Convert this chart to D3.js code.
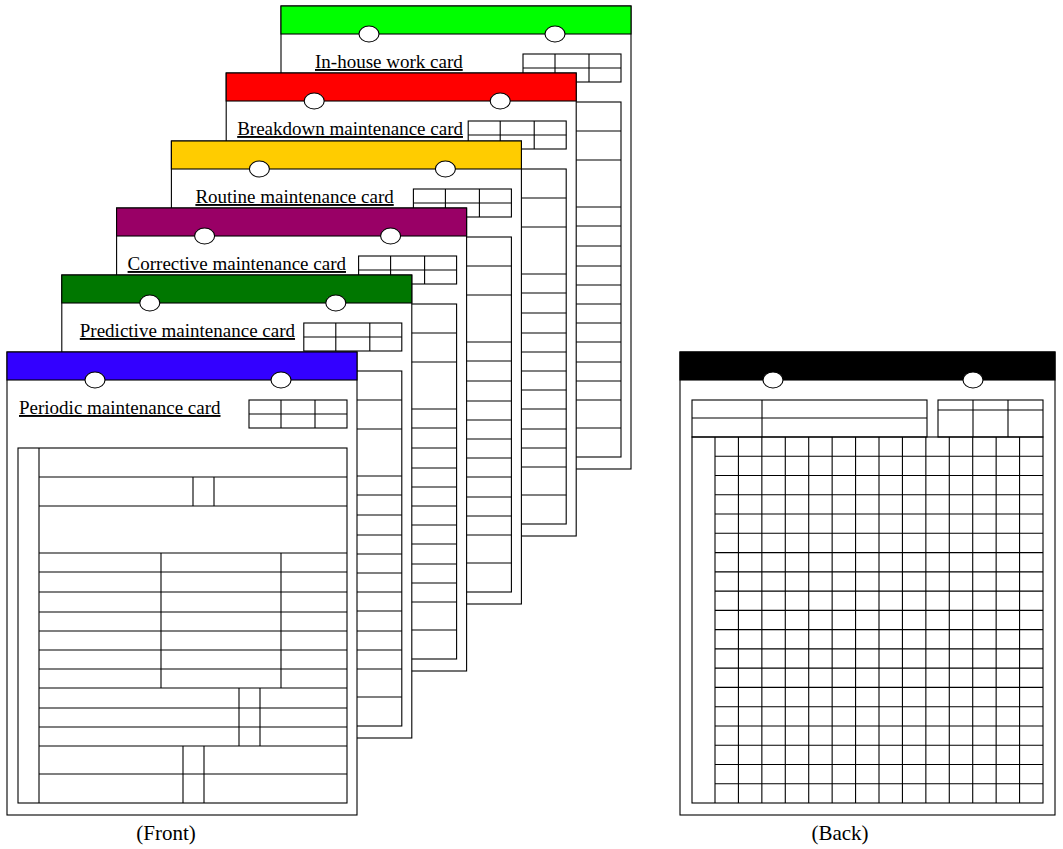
<!DOCTYPE html>
<html><head><meta charset="utf-8">
<script src="https://cdn.jsdelivr.net/npm/d3@7"></script>
<style>body{margin:0;background:#fff}text{font-family:"Liberation Serif","DejaVu Serif",serif;fill:#000}</style>
</head><body><svg id="c" width="1063" height="849"></svg>
<script>
const cardNames=["Periodic maintenance card","Predictive maintenance card","Corrective maintenance card","Routine maintenance card","Breakdown maintenance card","In-house work card"];
const cardColors=["#3300ff","#007700","#990066","#ffcc00","#ff0000","#00ff00"];
const cardIndex=[0,1,2,3,4,5];
const cardTops=[352,275,208,141,73,6];
const titleOffsets=[12,18,11,24,11,34];
const mainRows=[96,125,154,201,220,240,260,279,298,317,336,356,375,394,422,451];
const captions=["(Front)","(Back)"];
const backCols=14, backRows=19;

const svg=d3.select("#c");
const xs=d3.scaleLinear().domain([0,5]).range([7,281]);
const W=350,H=463,HH=28;
function line(g,x1,y1,x2,y2){g.append("line").attr("x1",x1).attr("y1",y1).attr("x2",x2).attr("y2",y2).attr("stroke","#000").attr("stroke-width",1.1);}
function rect(g,x,y,w,h,fill){g.append("rect").attr("x",x).attr("y",y).attr("width",w).attr("height",h).attr("fill",fill||"none").attr("stroke","#000").attr("stroke-width",1.1);}
function holes(g,xa,y){xa.forEach(x=>g.append("ellipse").attr("cx",x).attr("cy",y).attr("rx",10).attr("ry",8).attr("fill","#fff").attr("stroke","#000").attr("stroke-width",1.1));}

cardIndex.slice().reverse().forEach(i=>{
  const x0=xs(i),y0=cardTops[i],g=svg.append("g");
  rect(g,x0,y0,W,H,"#fff");
  rect(g,x0,y0,W,HH,cardColors[i]);
  holes(g,[x0+88,x0+274],y0+HH);
  g.append("text").attr("x",x0+titleOffsets[i]).attr("y",y0+62).attr("font-size",19).attr("text-decoration","underline").text(cardNames[i]);
  rect(g,x0+242,y0+48,98,28);line(g,x0+242,y0+62,x0+340,y0+62);
  line(g,x0+274,y0+48,x0+274,y0+76);line(g,x0+308,y0+48,x0+308,y0+76);
  const r0=mainRows[0],rN=mainRows[mainRows.length-1];
  rect(g,x0+11,y0+r0,329,rN-r0);
  line(g,x0+32,y0+r0,x0+32,y0+rN);
  mainRows.slice(1,-1).forEach(r=>line(g,x0+32,y0+r,x0+340,y0+r));
  [[186,125,154],[207,125,154],[154,201,336],[274,201,336],[232,336,394],[253,336,394],[176,394,451],[197,394,451]]
    .forEach(([vx,a,b])=>line(g,x0+vx,y0+a,x0+vx,y0+b));
});

const bx=680,by=352,bW=375,g=svg.append("g");
rect(g,bx,by,bW,H,"#fff");rect(g,bx,by,bW,HH,"#000");
holes(g,[bx+93,bx+293],by+HH);
rect(g,692,400,235,37);line(g,692,418,927,418);line(g,762,400,762,437);
rect(g,938,400,105,37);line(g,938,410,1043,410);line(g,973,400,973,437);line(g,1008,400,1008,437);
const gx=d3.scaleLinear().domain([0,backCols]).range([715,1043]);
const gy=d3.scaleLinear().domain([0,backRows]).range([437,803]);
rect(g,692,437,351,366);
d3.range(0,backCols).forEach(c=>line(g,gx(c),437,gx(c),803));
d3.range(1,backRows).forEach(r=>line(g,715,gy(r),1043,gy(r)));

svg.selectAll("text.cap").data(captions).join("text").attr("class","cap")
 .attr("x",(d,i)=>[166,840][i]).attr("y",840).attr("text-anchor","middle").attr("font-size",21).text(d=>d);
</script></body></html>
